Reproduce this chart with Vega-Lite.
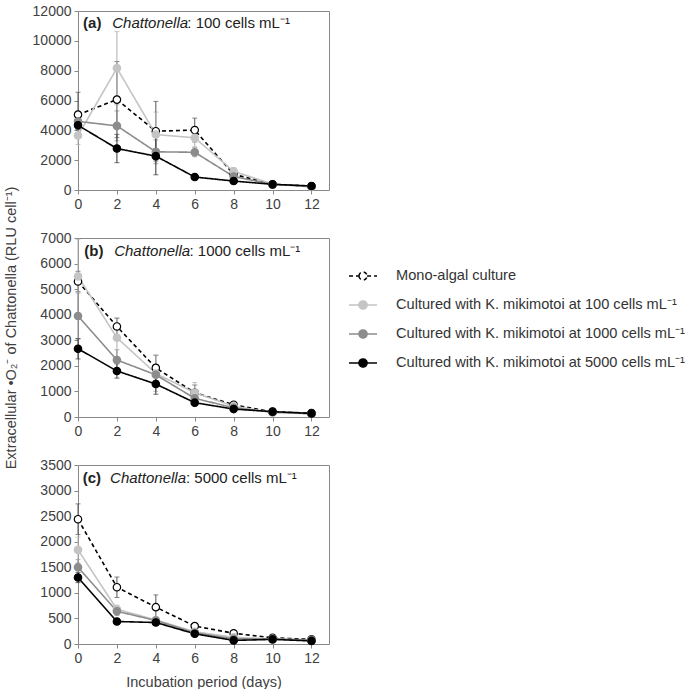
{
  "$schema": "https://vega.github.io/schema/vega-lite/v6.json",
  "background": "white",
  "padding": {"left": 3, "top": 3, "right": 0, "bottom": 0},
  "bounds": "flush",
  "spacing": 48,
  "datasets": {
    "obs": [
      {"panel": "a", "series": "Mono-algal culture", "day": 0, "value": 5050, "err": 1500},
      {"panel": "a", "series": "Mono-algal culture", "day": 2, "value": 6060, "err": 2550},
      {"panel": "a", "series": "Mono-algal culture", "day": 4, "value": 3940, "err": 2000},
      {"panel": "a", "series": "Mono-algal culture", "day": 6, "value": 4020, "err": 800},
      {"panel": "a", "series": "Mono-algal culture", "day": 8, "value": 1050, "err": 200},
      {"panel": "a", "series": "Mono-algal culture", "day": 10, "value": 380, "err": 60},
      {"panel": "a", "series": "Mono-algal culture", "day": 12, "value": 250, "err": 40},
      {"panel": "a", "series": "Cultured with K. mikimotoi at 100 cells mL⁻¹", "day": 0, "value": 3650, "err": 600},
      {"panel": "a", "series": "Cultured with K. mikimotoi at 100 cells mL⁻¹", "day": 2, "value": 8170, "err": 2450},
      {"panel": "a", "series": "Cultured with K. mikimotoi at 100 cells mL⁻¹", "day": 4, "value": 3720, "err": 1500},
      {"panel": "a", "series": "Cultured with K. mikimotoi at 100 cells mL⁻¹", "day": 6, "value": 3500, "err": 600},
      {"panel": "a", "series": "Cultured with K. mikimotoi at 100 cells mL⁻¹", "day": 8, "value": 1250, "err": 250},
      {"panel": "a", "series": "Cultured with K. mikimotoi at 100 cells mL⁻¹", "day": 10, "value": 400, "err": 60},
      {"panel": "a", "series": "Cultured with K. mikimotoi at 100 cells mL⁻¹", "day": 12, "value": 200, "err": 40},
      {"panel": "a", "series": "Cultured with K. mikimotoi at 1000 cells mL⁻¹", "day": 0, "value": 4600, "err": 500},
      {"panel": "a", "series": "Cultured with K. mikimotoi at 1000 cells mL⁻¹", "day": 2, "value": 4300, "err": 1000},
      {"panel": "a", "series": "Cultured with K. mikimotoi at 1000 cells mL⁻¹", "day": 4, "value": 2560, "err": 800},
      {"panel": "a", "series": "Cultured with K. mikimotoi at 1000 cells mL⁻¹", "day": 6, "value": 2530, "err": 300},
      {"panel": "a", "series": "Cultured with K. mikimotoi at 1000 cells mL⁻¹", "day": 8, "value": 900, "err": 150},
      {"panel": "a", "series": "Cultured with K. mikimotoi at 1000 cells mL⁻¹", "day": 10, "value": 380, "err": 60},
      {"panel": "a", "series": "Cultured with K. mikimotoi at 1000 cells mL⁻¹", "day": 12, "value": 250, "err": 40},
      {"panel": "a", "series": "Cultured with K. mikimotoi at 5000 cells mL⁻¹", "day": 0, "value": 4340, "err": 300},
      {"panel": "a", "series": "Cultured with K. mikimotoi at 5000 cells mL⁻¹", "day": 2, "value": 2780, "err": 950},
      {"panel": "a", "series": "Cultured with K. mikimotoi at 5000 cells mL⁻¹", "day": 4, "value": 2270, "err": 1250},
      {"panel": "a", "series": "Cultured with K. mikimotoi at 5000 cells mL⁻¹", "day": 6, "value": 870, "err": 150},
      {"panel": "a", "series": "Cultured with K. mikimotoi at 5000 cells mL⁻¹", "day": 8, "value": 600, "err": 100},
      {"panel": "a", "series": "Cultured with K. mikimotoi at 5000 cells mL⁻¹", "day": 10, "value": 380, "err": 60},
      {"panel": "a", "series": "Cultured with K. mikimotoi at 5000 cells mL⁻¹", "day": 12, "value": 270, "err": 40},

      {"panel": "b", "series": "Mono-algal culture", "day": 0, "value": 5300, "err": 400},
      {"panel": "b", "series": "Mono-algal culture", "day": 2, "value": 3540, "err": 330},
      {"panel": "b", "series": "Mono-algal culture", "day": 4, "value": 1920, "err": 500},
      {"panel": "b", "series": "Mono-algal culture", "day": 6, "value": 950, "err": 300},
      {"panel": "b", "series": "Mono-algal culture", "day": 8, "value": 480, "err": 60},
      {"panel": "b", "series": "Mono-algal culture", "day": 10, "value": 200, "err": 30},
      {"panel": "b", "series": "Mono-algal culture", "day": 12, "value": 150, "err": 20},
      {"panel": "b", "series": "Cultured with K. mikimotoi at 100 cells mL⁻¹", "day": 0, "value": 5500, "err": 1450},
      {"panel": "b", "series": "Cultured with K. mikimotoi at 100 cells mL⁻¹", "day": 2, "value": 3100, "err": 750},
      {"panel": "b", "series": "Cultured with K. mikimotoi at 100 cells mL⁻¹", "day": 4, "value": 1700, "err": 700},
      {"panel": "b", "series": "Cultured with K. mikimotoi at 100 cells mL⁻¹", "day": 6, "value": 950, "err": 400},
      {"panel": "b", "series": "Cultured with K. mikimotoi at 100 cells mL⁻¹", "day": 8, "value": 420, "err": 60},
      {"panel": "b", "series": "Cultured with K. mikimotoi at 100 cells mL⁻¹", "day": 10, "value": 180, "err": 30},
      {"panel": "b", "series": "Cultured with K. mikimotoi at 100 cells mL⁻¹", "day": 12, "value": 120, "err": 20},
      {"panel": "b", "series": "Cultured with K. mikimotoi at 1000 cells mL⁻¹", "day": 0, "value": 3950, "err": 900},
      {"panel": "b", "series": "Cultured with K. mikimotoi at 1000 cells mL⁻¹", "day": 2, "value": 2230, "err": 400},
      {"panel": "b", "series": "Cultured with K. mikimotoi at 1000 cells mL⁻¹", "day": 4, "value": 1650, "err": 300},
      {"panel": "b", "series": "Cultured with K. mikimotoi at 1000 cells mL⁻¹", "day": 6, "value": 730, "err": 150},
      {"panel": "b", "series": "Cultured with K. mikimotoi at 1000 cells mL⁻¹", "day": 8, "value": 360, "err": 50},
      {"panel": "b", "series": "Cultured with K. mikimotoi at 1000 cells mL⁻¹", "day": 10, "value": 190, "err": 30},
      {"panel": "b", "series": "Cultured with K. mikimotoi at 1000 cells mL⁻¹", "day": 12, "value": 130, "err": 20},
      {"panel": "b", "series": "Cultured with K. mikimotoi at 5000 cells mL⁻¹", "day": 0, "value": 2670, "err": 400},
      {"panel": "b", "series": "Cultured with K. mikimotoi at 5000 cells mL⁻¹", "day": 2, "value": 1800, "err": 280},
      {"panel": "b", "series": "Cultured with K. mikimotoi at 5000 cells mL⁻¹", "day": 4, "value": 1290, "err": 400},
      {"panel": "b", "series": "Cultured with K. mikimotoi at 5000 cells mL⁻¹", "day": 6, "value": 560, "err": 100},
      {"panel": "b", "series": "Cultured with K. mikimotoi at 5000 cells mL⁻¹", "day": 8, "value": 310, "err": 50},
      {"panel": "b", "series": "Cultured with K. mikimotoi at 5000 cells mL⁻¹", "day": 10, "value": 210, "err": 30},
      {"panel": "b", "series": "Cultured with K. mikimotoi at 5000 cells mL⁻¹", "day": 12, "value": 140, "err": 20},

      {"panel": "c", "series": "Mono-algal culture", "day": 0, "value": 2440, "err": 300},
      {"panel": "c", "series": "Mono-algal culture", "day": 2, "value": 1110, "err": 200},
      {"panel": "c", "series": "Mono-algal culture", "day": 4, "value": 720, "err": 240},
      {"panel": "c", "series": "Mono-algal culture", "day": 6, "value": 350, "err": 40},
      {"panel": "c", "series": "Mono-algal culture", "day": 8, "value": 210, "err": 30},
      {"panel": "c", "series": "Mono-algal culture", "day": 10, "value": 120, "err": 20},
      {"panel": "c", "series": "Mono-algal culture", "day": 12, "value": 90, "err": 15},
      {"panel": "c", "series": "Cultured with K. mikimotoi at 100 cells mL⁻¹", "day": 0, "value": 1840, "err": 250},
      {"panel": "c", "series": "Cultured with K. mikimotoi at 100 cells mL⁻¹", "day": 2, "value": 680, "err": 80},
      {"panel": "c", "series": "Cultured with K. mikimotoi at 100 cells mL⁻¹", "day": 4, "value": 470, "err": 60},
      {"panel": "c", "series": "Cultured with K. mikimotoi at 100 cells mL⁻¹", "day": 6, "value": 240, "err": 30},
      {"panel": "c", "series": "Cultured with K. mikimotoi at 100 cells mL⁻¹", "day": 8, "value": 130, "err": 20},
      {"panel": "c", "series": "Cultured with K. mikimotoi at 100 cells mL⁻¹", "day": 10, "value": 100, "err": 15},
      {"panel": "c", "series": "Cultured with K. mikimotoi at 100 cells mL⁻¹", "day": 12, "value": 70, "err": 10},
      {"panel": "c", "series": "Cultured with K. mikimotoi at 1000 cells mL⁻¹", "day": 0, "value": 1500, "err": 150},
      {"panel": "c", "series": "Cultured with K. mikimotoi at 1000 cells mL⁻¹", "day": 2, "value": 640, "err": 80},
      {"panel": "c", "series": "Cultured with K. mikimotoi at 1000 cells mL⁻¹", "day": 4, "value": 460, "err": 60},
      {"panel": "c", "series": "Cultured with K. mikimotoi at 1000 cells mL⁻¹", "day": 6, "value": 220, "err": 30},
      {"panel": "c", "series": "Cultured with K. mikimotoi at 1000 cells mL⁻¹", "day": 8, "value": 100, "err": 20},
      {"panel": "c", "series": "Cultured with K. mikimotoi at 1000 cells mL⁻¹", "day": 10, "value": 100, "err": 15},
      {"panel": "c", "series": "Cultured with K. mikimotoi at 1000 cells mL⁻¹", "day": 12, "value": 80, "err": 10},
      {"panel": "c", "series": "Cultured with K. mikimotoi at 5000 cells mL⁻¹", "day": 0, "value": 1300, "err": 100},
      {"panel": "c", "series": "Cultured with K. mikimotoi at 5000 cells mL⁻¹", "day": 2, "value": 440, "err": 50},
      {"panel": "c", "series": "Cultured with K. mikimotoi at 5000 cells mL⁻¹", "day": 4, "value": 420, "err": 50},
      {"panel": "c", "series": "Cultured with K. mikimotoi at 5000 cells mL⁻¹", "day": 6, "value": 200, "err": 30},
      {"panel": "c", "series": "Cultured with K. mikimotoi at 5000 cells mL⁻¹", "day": 8, "value": 70, "err": 20},
      {"panel": "c", "series": "Cultured with K. mikimotoi at 5000 cells mL⁻¹", "day": 10, "value": 90, "err": 15},
      {"panel": "c", "series": "Cultured with K. mikimotoi at 5000 cells mL⁻¹", "day": 12, "value": 60, "err": 10}
    ]
  },
  "vconcat": [
    {
      "width": 251,
      "height": 179,
      "layer": [
        {
          "data": {"name": "obs"},
          "transform": [{"filter": "datum.panel === 'a'"}],
          "mark": {"type": "line", "strokeWidth": 1.6},
          "encoding": {
            "x": {"field": "day", "type": "quantitative", "scale": {"domain": [0, 12.9], "nice": false, "zero": false}, "axis": {"values": [0, 2, 4, 6, 8, 10, 12], "title": null, "labelOverlap": false}},
            "y": {"field": "value", "type": "quantitative", "scale": {"domain": [0, 12000], "nice": false}, "axis": {"values": [0, 2000, 4000, 6000, 8000, 10000, 12000], "title": null, "labelOverlap": false}},
            "stroke": {"field": "series", "type": "nominal", "scale": {"domain": ["Mono-algal culture", "Cultured with K. mikimotoi at 100 cells mL⁻¹", "Cultured with K. mikimotoi at 1000 cells mL⁻¹", "Cultured with K. mikimotoi at 5000 cells mL⁻¹"], "range": ["#000000", "#c4c4c4", "#8c8c8c", "#000000"]}, "legend": {"title": null, "orient": "none", "legendX": 270, "legendY": 250, "symbolType": "M-1,0L-0.29,0M0.29,0L1,0M-0.29,0A0.29,0.29,0,1,0,0.29,0A0.29,0.29,0,1,0,-0.29,0Z"}},
            "strokeDash": {"field": "series", "type": "nominal", "scale": {"domain": ["Mono-algal culture", "Cultured with K. mikimotoi at 100 cells mL⁻¹", "Cultured with K. mikimotoi at 1000 cells mL⁻¹", "Cultured with K. mikimotoi at 5000 cells mL⁻¹"], "range": [[4, 3], [1, 0], [1, 0], [1, 0]]}, "legend": {"title": null, "orient": "none", "legendX": 270, "legendY": 250, "symbolType": "M-1,0L-0.29,0M0.29,0L1,0M-0.29,0A0.29,0.29,0,1,0,0.29,0A0.29,0.29,0,1,0,-0.29,0Z"}}
          }
        },
        {
          "data": {"name": "obs"},
          "transform": [{"filter": "datum.panel === 'a'"}],
          "mark": {"type": "errorbar", "ticks": {"size": 5}, "thickness": 1},
          "encoding": {
            "x": {"field": "day", "type": "quantitative", "axis": {"values": [0, 2, 4, 6, 8, 10, 12], "title": null, "labelOverlap": false}},
            "y": {"field": "value", "type": "quantitative", "axis": {"values": [0, 2000, 4000, 6000, 8000, 10000, 12000], "title": null, "labelOverlap": false}},
            "yError": {"field": "err"},
            "color": {"field": "series", "type": "nominal", "scale": {"range": ["#b0b0b0", "#8c8c8c", "#333333", "#555555"]}, "legend": null}
          }
        },
        {
          "data": {"name": "obs"},
          "transform": [{"filter": "datum.panel === 'a'"}],
          "mark": {"type": "circle", "size": 55, "strokeWidth": 1.2, "opacity": 1},
          "encoding": {
            "x": {"field": "day", "type": "quantitative", "axis": {"values": [0, 2, 4, 6, 8, 10, 12], "title": null, "labelOverlap": false}},
            "y": {"field": "value", "type": "quantitative", "axis": {"values": [0, 2000, 4000, 6000, 8000, 10000, 12000], "title": null, "labelOverlap": false}},
            "stroke": {"field": "series", "type": "nominal", "legend": {"title": null, "orient": "none", "legendX": 270, "legendY": 250, "symbolType": "M-1,0L-0.29,0M0.29,0L1,0M-0.29,0A0.29,0.29,0,1,0,0.29,0A0.29,0.29,0,1,0,-0.29,0Z"}},
            "fill": {"field": "series", "type": "nominal", "scale": {"domain": ["Mono-algal culture", "Cultured with K. mikimotoi at 100 cells mL⁻¹", "Cultured with K. mikimotoi at 1000 cells mL⁻¹", "Cultured with K. mikimotoi at 5000 cells mL⁻¹"], "range": ["#ffffff", "#c4c4c4", "#8c8c8c", "#000000"]}, "legend": {"title": null, "orient": "none", "legendX": 270, "legendY": 250, "symbolType": "M-1,0L-0.29,0M0.29,0L1,0M-0.29,0A0.29,0.29,0,1,0,0.29,0A0.29,0.29,0,1,0,-0.29,0Z"}}
          }
        },
        {
          "data": {"values": [{"t": "(a)"}]},
          "mark": {"type": "text", "align": "left", "baseline": "middle", "fontSize": 15, "fontWeight": "bold", "color": "#222222"},
          "encoding": {
            "x": {"datum": 0.26, "type": "quantitative", "axis": {"values": [0, 2, 4, 6, 8, 10, 12], "title": null, "labelOverlap": false}},
            "y": {"datum": 11200, "type": "quantitative", "axis": {"values": [0, 2000, 4000, 6000, 8000, 10000, 12000], "title": null, "labelOverlap": false}},
            "text": {"field": "t"}
          }
        },
        {
          "data": {"values": [{"t": "Chattonella"}]},
          "mark": {"type": "text", "align": "left", "baseline": "middle", "fontSize": 15, "fontStyle": "italic", "color": "#222222"},
          "encoding": {
            "x": {"datum": 1.76, "type": "quantitative", "axis": {"values": [0, 2, 4, 6, 8, 10, 12], "title": null, "labelOverlap": false}},
            "y": {"datum": 11200, "type": "quantitative", "axis": {"values": [0, 2000, 4000, 6000, 8000, 10000, 12000], "title": null, "labelOverlap": false}},
            "text": {"field": "t"}
          }
        },
        {
          "data": {"values": [{"t": ": 100 cells mL⁻¹"}]},
          "mark": {"type": "text", "align": "left", "baseline": "middle", "fontSize": 15, "color": "#222222"},
          "encoding": {
            "x": {"datum": 5.62, "type": "quantitative", "axis": {"values": [0, 2, 4, 6, 8, 10, 12], "title": null, "labelOverlap": false}},
            "y": {"datum": 11200, "type": "quantitative", "axis": {"values": [0, 2000, 4000, 6000, 8000, 10000, 12000], "title": null, "labelOverlap": false}},
            "text": {"field": "t"}
          }
        }
      ]
    },
    {
      "width": 251,
      "height": 179,
      "layer": [
        {
          "data": {"name": "obs"},
          "transform": [{"filter": "datum.panel === 'b'"}],
          "mark": {"type": "line", "strokeWidth": 1.6},
          "encoding": {
            "x": {"field": "day", "type": "quantitative", "scale": {"domain": [0, 12.9], "nice": false, "zero": false}, "axis": {"values": [0, 2, 4, 6, 8, 10, 12], "title": null, "labelOverlap": false}},
            "y": {"field": "value", "type": "quantitative", "scale": {"domain": [0, 7000], "nice": false}, "axis": {"values": [0, 1000, 2000, 3000, 4000, 5000, 6000, 7000], "labelOverlap": false, "title": "Extracellular •O₂⁻ of Chattonella (RLU cell⁻¹)", "titlePadding": 21}},
            "stroke": {"field": "series", "type": "nominal", "legend": {"title": null, "orient": "none", "legendX": 270, "legendY": 250, "symbolType": "M-1,0L-0.29,0M0.29,0L1,0M-0.29,0A0.29,0.29,0,1,0,0.29,0A0.29,0.29,0,1,0,-0.29,0Z"}},
            "strokeDash": {"field": "series", "type": "nominal", "legend": {"title": null, "orient": "none", "legendX": 270, "legendY": 250, "symbolType": "M-1,0L-0.29,0M0.29,0L1,0M-0.29,0A0.29,0.29,0,1,0,0.29,0A0.29,0.29,0,1,0,-0.29,0Z"}}
          }
        },
        {
          "data": {"name": "obs"},
          "transform": [{"filter": "datum.panel === 'b'"}],
          "mark": {"type": "errorbar", "ticks": {"size": 5}, "thickness": 1},
          "encoding": {
            "x": {"field": "day", "type": "quantitative", "axis": {"values": [0, 2, 4, 6, 8, 10, 12], "title": null, "labelOverlap": false}},
            "y": {"field": "value", "type": "quantitative", "axis": {"values": [0, 1000, 2000, 3000, 4000, 5000, 6000, 7000], "labelOverlap": false, "title": "Extracellular •O₂⁻ of Chattonella (RLU cell⁻¹)", "titlePadding": 21}},
            "yError": {"field": "err"},
            "color": {"field": "series", "type": "nominal", "legend": null}
          }
        },
        {
          "data": {"name": "obs"},
          "transform": [{"filter": "datum.panel === 'b'"}],
          "mark": {"type": "circle", "size": 55, "strokeWidth": 1.2, "opacity": 1},
          "encoding": {
            "x": {"field": "day", "type": "quantitative", "axis": {"values": [0, 2, 4, 6, 8, 10, 12], "title": null, "labelOverlap": false}},
            "y": {"field": "value", "type": "quantitative", "axis": {"values": [0, 1000, 2000, 3000, 4000, 5000, 6000, 7000], "labelOverlap": false, "title": "Extracellular •O₂⁻ of Chattonella (RLU cell⁻¹)", "titlePadding": 21}},
            "stroke": {"field": "series", "type": "nominal", "legend": {"title": null, "orient": "none", "legendX": 270, "legendY": 250, "symbolType": "M-1,0L-0.29,0M0.29,0L1,0M-0.29,0A0.29,0.29,0,1,0,0.29,0A0.29,0.29,0,1,0,-0.29,0Z"}},
            "fill": {"field": "series", "type": "nominal", "legend": {"title": null, "orient": "none", "legendX": 270, "legendY": 250, "symbolType": "M-1,0L-0.29,0M0.29,0L1,0M-0.29,0A0.29,0.29,0,1,0,0.29,0A0.29,0.29,0,1,0,-0.29,0Z"}}
          }
        },
        {
          "data": {"values": [{"t": "(b)"}]},
          "mark": {"type": "text", "align": "left", "baseline": "middle", "fontSize": 15, "fontWeight": "bold", "color": "#222222"},
          "encoding": {
            "x": {"datum": 0.32, "type": "quantitative", "axis": {"values": [0, 2, 4, 6, 8, 10, 12], "title": null, "labelOverlap": false}},
            "y": {"datum": 6490, "type": "quantitative", "axis": {"values": [0, 1000, 2000, 3000, 4000, 5000, 6000, 7000], "labelOverlap": false, "title": "Extracellular •O₂⁻ of Chattonella (RLU cell⁻¹)", "titlePadding": 21}},
            "text": {"field": "t"}
          }
        },
        {
          "data": {"values": [{"t": "Chattonella"}]},
          "mark": {"type": "text", "align": "left", "baseline": "middle", "fontSize": 15, "fontStyle": "italic", "color": "#222222"},
          "encoding": {
            "x": {"datum": 1.86, "type": "quantitative", "axis": {"values": [0, 2, 4, 6, 8, 10, 12], "title": null, "labelOverlap": false}},
            "y": {"datum": 6490, "type": "quantitative", "axis": {"values": [0, 1000, 2000, 3000, 4000, 5000, 6000, 7000], "labelOverlap": false, "title": "Extracellular •O₂⁻ of Chattonella (RLU cell⁻¹)", "titlePadding": 21}},
            "text": {"field": "t"}
          }
        },
        {
          "data": {"values": [{"t": ": 1000 cells mL⁻¹"}]},
          "mark": {"type": "text", "align": "left", "baseline": "middle", "fontSize": 15, "color": "#222222"},
          "encoding": {
            "x": {"datum": 5.73, "type": "quantitative", "axis": {"values": [0, 2, 4, 6, 8, 10, 12], "title": null, "labelOverlap": false}},
            "y": {"datum": 6490, "type": "quantitative", "axis": {"values": [0, 1000, 2000, 3000, 4000, 5000, 6000, 7000], "labelOverlap": false, "title": "Extracellular •O₂⁻ of Chattonella (RLU cell⁻¹)", "titlePadding": 21}},
            "text": {"field": "t"}
          }
        }
      ]
    },
    {
      "width": 251,
      "height": 179,
      "layer": [
        {
          "data": {"name": "obs"},
          "transform": [{"filter": "datum.panel === 'c'"}],
          "mark": {"type": "line", "strokeWidth": 1.6},
          "encoding": {
            "x": {"field": "day", "type": "quantitative", "scale": {"domain": [0, 12.9], "nice": false, "zero": false}, "axis": {"values": [0, 2, 4, 6, 8, 10, 12], "labelOverlap": false, "title": "Incubation period (days)", "titlePadding": 10}},
            "y": {"field": "value", "type": "quantitative", "scale": {"domain": [0, 3500], "nice": false}, "axis": {"values": [0, 500, 1000, 1500, 2000, 2500, 3000, 3500], "labelOverlap": false, "title": null}},
            "stroke": {"field": "series", "type": "nominal", "legend": {"title": null, "orient": "none", "legendX": 270, "legendY": 250, "symbolType": "M-1,0L-0.29,0M0.29,0L1,0M-0.29,0A0.29,0.29,0,1,0,0.29,0A0.29,0.29,0,1,0,-0.29,0Z"}},
            "strokeDash": {"field": "series", "type": "nominal", "legend": {"title": null, "orient": "none", "legendX": 270, "legendY": 250, "symbolType": "M-1,0L-0.29,0M0.29,0L1,0M-0.29,0A0.29,0.29,0,1,0,0.29,0A0.29,0.29,0,1,0,-0.29,0Z"}}
          }
        },
        {
          "data": {"name": "obs"},
          "transform": [{"filter": "datum.panel === 'c'"}],
          "mark": {"type": "errorbar", "ticks": {"size": 5}, "thickness": 1},
          "encoding": {
            "x": {"field": "day", "type": "quantitative", "axis": {"values": [0, 2, 4, 6, 8, 10, 12], "labelOverlap": false, "title": "Incubation period (days)", "titlePadding": 10}},
            "y": {"field": "value", "type": "quantitative", "axis": {"values": [0, 500, 1000, 1500, 2000, 2500, 3000, 3500], "labelOverlap": false, "title": null}},
            "yError": {"field": "err"},
            "color": {"field": "series", "type": "nominal", "legend": null}
          }
        },
        {
          "data": {"name": "obs"},
          "transform": [{"filter": "datum.panel === 'c'"}],
          "mark": {"type": "circle", "size": 55, "strokeWidth": 1.2, "opacity": 1},
          "encoding": {
            "x": {"field": "day", "type": "quantitative", "axis": {"values": [0, 2, 4, 6, 8, 10, 12], "labelOverlap": false, "title": "Incubation period (days)", "titlePadding": 10}},
            "y": {"field": "value", "type": "quantitative", "axis": {"values": [0, 500, 1000, 1500, 2000, 2500, 3000, 3500], "labelOverlap": false, "title": null}},
            "stroke": {"field": "series", "type": "nominal", "legend": {"title": null, "orient": "none", "legendX": 270, "legendY": 250, "symbolType": "M-1,0L-0.29,0M0.29,0L1,0M-0.29,0A0.29,0.29,0,1,0,0.29,0A0.29,0.29,0,1,0,-0.29,0Z"}},
            "fill": {"field": "series", "type": "nominal", "legend": {"title": null, "orient": "none", "legendX": 270, "legendY": 250, "symbolType": "M-1,0L-0.29,0M0.29,0L1,0M-0.29,0A0.29,0.29,0,1,0,0.29,0A0.29,0.29,0,1,0,-0.29,0Z"}}
          }
        },
        {
          "data": {"values": [{"t": "(c)"}]},
          "mark": {"type": "text", "align": "left", "baseline": "middle", "fontSize": 15, "fontWeight": "bold", "color": "#222222"},
          "encoding": {
            "x": {"datum": 0.24, "type": "quantitative", "axis": {"values": [0, 2, 4, 6, 8, 10, 12], "labelOverlap": false, "title": "Incubation period (days)", "titlePadding": 10}},
            "y": {"datum": 3250, "type": "quantitative", "axis": {"values": [0, 500, 1000, 1500, 2000, 2500, 3000, 3500], "labelOverlap": false, "title": null}},
            "text": {"field": "t"}
          }
        },
        {
          "data": {"values": [{"t": "Chattonella"}]},
          "mark": {"type": "text", "align": "left", "baseline": "middle", "fontSize": 15, "fontStyle": "italic", "color": "#222222"},
          "encoding": {
            "x": {"datum": 1.65, "type": "quantitative", "axis": {"values": [0, 2, 4, 6, 8, 10, 12], "labelOverlap": false, "title": "Incubation period (days)", "titlePadding": 10}},
            "y": {"datum": 3250, "type": "quantitative", "axis": {"values": [0, 500, 1000, 1500, 2000, 2500, 3000, 3500], "labelOverlap": false, "title": null}},
            "text": {"field": "t"}
          }
        },
        {
          "data": {"values": [{"t": ": 5000 cells mL⁻¹"}]},
          "mark": {"type": "text", "align": "left", "baseline": "middle", "fontSize": 15, "color": "#222222"},
          "encoding": {
            "x": {"datum": 5.55, "type": "quantitative", "axis": {"values": [0, 2, 4, 6, 8, 10, 12], "labelOverlap": false, "title": "Incubation period (days)", "titlePadding": 10}},
            "y": {"datum": 3250, "type": "quantitative", "axis": {"values": [0, 500, 1000, 1500, 2000, 2500, 3000, 3500], "labelOverlap": false, "title": null}},
            "text": {"field": "t"}
          }
        }
      ]
    }
  ],
  "resolve": {"scale": {"y": "independent"}},
  "config": {
    "font": "Liberation Sans",
    "locale": {"number": {"decimal": ".", "thousands": "", "grouping": [3], "currency": ["", ""]}},
    "view": {"stroke": "#888888", "strokeWidth": 1},
    "axis": {
      "domain": false,
      "grid": false,
      "ticks": true,
      "tickSize": 4,
      "tickColor": "#888888",
      "labelFontSize": 14,
      "labelColor": "#404040",
      "labelPadding": 3,
      "labelFlush": false,
      "labelOverlap": false,
      "titleFontSize": 14.5,
      "titleFontWeight": "normal",
      "titleColor": "#404040"
    },
    "legend": {
      "padding": 0,
      "symbolSize": 784,
      "symbolStrokeWidth": 1.5,
      "labelFontSize": 14.6,
      "labelColor": "#333333",
      "labelLimit": 400,
      "labelOffset": 18,
      "rowPadding": 6
    }
  }
}
